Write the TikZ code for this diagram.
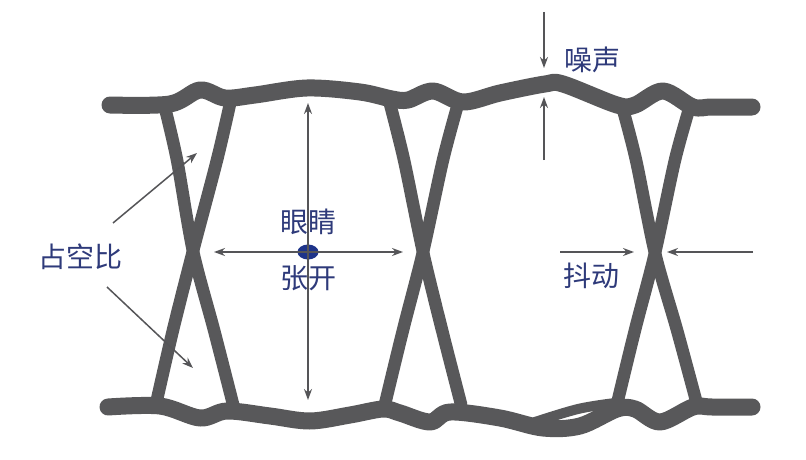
\documentclass[tikz,border=0pt]{standalone}
\usepackage{fontspec}
\newfontfamily\cjk{Noto Sans CJK SC}
\usetikzlibrary{arrows.meta,shapes.geometric}
\definecolor{railgray}{RGB}{88,88,90}
\definecolor{arrowgray}{RGB}{85,85,88}
\definecolor{labelnavy}{RGB}{46,58,122}
\definecolor{dotblue}{RGB}{30,52,138}
\tikzset{
  rail/.style={draw=railgray,line width=17pt,line cap=round,line join=round},
  crossline/.style={draw=railgray,line width=12.5pt,line cap=round,line join=round},
  pointer/.style={draw=arrowgray,line width=1.5pt,-{Stealth[length=11pt,width=8pt]}},
  dpointer/.style={draw=arrowgray,line width=1.5pt,{Stealth[length=11pt,width=8pt]}-{Stealth[length=11pt,width=8pt]}},
  lbl/.style={font=\cjk\fontsize{28}{32}\selectfont,text=labelnavy,inner sep=0pt}
}
\begin{document}
\begin{tikzpicture}[x=1pt,y=-1pt]
\useasboundingbox[fill=white] (0,0) rectangle (806,460);
% crossing lines
\draw[crossline] plot[smooth,tension=0.5] coordinates {(164,104) (177,160) (193,251) (214,330) (233,404)};
\draw[crossline] plot[smooth,tension=0.5] coordinates {(230,104) (217,160) (193,251) (173,330) (156,404)};
\draw[crossline] plot[smooth,tension=0.5] coordinates {(390,104) (404,160) (423,252) (442,330) (461,404)};
\draw[crossline] plot[smooth,tension=0.5] coordinates {(458,104) (443,160) (423,252) (403,330) (385,404)};
\draw[crossline] plot[smooth,tension=0.5] coordinates {(622,106) (636,160) (655,253) (677,330) (697,404)};
\draw[crossline] plot[smooth,tension=0.5] coordinates {(690,106) (675,160) (655,253) (635,330) (617,404)};
% rails
\draw[rail] plot[smooth,tension=0.55] coordinates {(110,105) (170,104) (200,90) (225,98) (255,95) (307,88) (360,92) (392,99) (408,100) (433,91) (463,102) (500,93) (545,84) (563,84) (617,105) (635,105) (663,91) (693,107) (712,107) (752,107)};
\draw[rail] plot[smooth,tension=0.55] coordinates {(108,407) (160,406) (200,418) (227,411) (270,416) (310,421) (350,415) (383,409) (400,413) (430,422) (450,412) (500,418) (543,428) (580,426) (617,409) (635,409) (660,422) (693,407) (712,407) (752,407)};
\draw[draw=railgray,line width=10pt,line cap=round] plot[smooth,tension=0.6] coordinates {(535,422) (578,409) (615,403)};
% eye opening
\node[draw=none,fill=dotblue,ellipse,minimum width=21pt,minimum height=15pt,inner sep=0pt] (dot) at (308,252) {};
\coordinate (vtop) at (308,103);
\coordinate (vbot) at (308,400);
\coordinate (hleft) at (214,252);
\coordinate (hright) at (403,252);
\draw[dpointer] (vtop) -- (vbot);
\draw[dpointer] (hleft) -- (hright);
\node[lbl] (eyeA) at (308,222) {眼睛};
\node[lbl] (eyeB) at (308,278) {张开};
% duty cycle
\node[lbl] (duty) at (80,257) {占空比};
\coordinate (dutyA) at (113,223);
\coordinate (dutyAt) at (197,153);
\coordinate (dutyB) at (107,287);
\coordinate (dutyBt) at (193,368);
\draw[pointer] (dutyA) -- (dutyAt);
\draw[pointer] (dutyB) -- (dutyBt);
% noise
\node[lbl] (noise) at (592,60) {噪声};
\coordinate (nA) at (544,12);
\coordinate (nAt) at (544,68);
\coordinate (nB) at (544,160);
\coordinate (nBt) at (544,97);
\draw[pointer] (nA) -- (nAt);
\draw[pointer] (nB) -- (nBt);
% jitter
\node[lbl] (jitter) at (591,276) {抖动};
\coordinate (jA) at (560,252);
\coordinate (jAt) at (634,252);
\coordinate (jB) at (753,252);
\coordinate (jBt) at (667,252);
\draw[pointer] (jA) -- (jAt);
\draw[pointer] (jB) -- (jBt);
\end{tikzpicture}
\end{document}
